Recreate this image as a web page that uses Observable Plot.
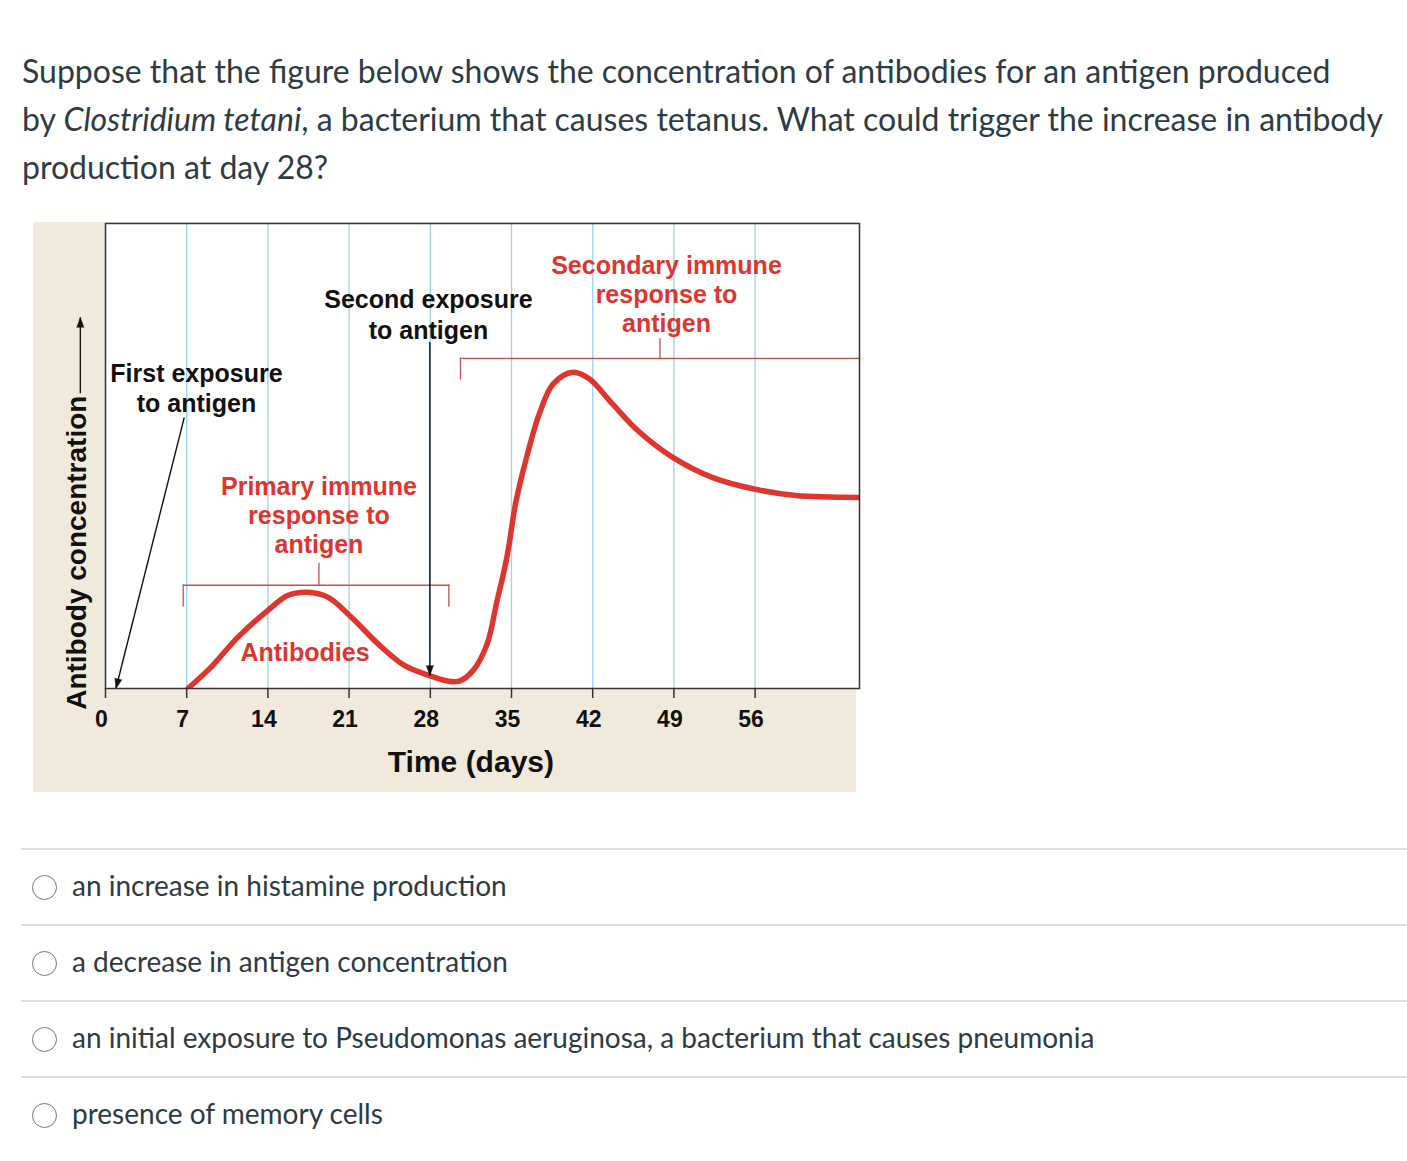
<!DOCTYPE html>
<html>
<head>
<meta charset="utf-8">
<script src="https://cdn.jsdelivr.net/npm/d3@7"></script>
<script src="https://cdn.jsdelivr.net/npm/@observablehq/plot@0.6"></script>
<style>
  body { margin: 0; background: #fff; width: 1407px; height: 1161px; position: relative; overflow: hidden;
         font-family: Lato, "Noto Sans", sans-serif; color: #2d3b45; }
  .question { position: absolute; left: 22px; top: 47px; font-size: 32px; line-height: 48px; white-space: nowrap; }
  .figure { position: absolute; left: 33px; top: 222px; width: 823px; height: 570px; background: #f1e9dc; }
  #chart { position: absolute; left: 33px; top: 222px; }
  .answers { position: absolute; left: 21px; top: 848px; width: 1386px; }
  .answer { height: 74px; border-top: 2px solid #dedede; display: flex; align-items: center; font-size: 28px; }
  .answer span.t { position: relative; top: -2px; }
  .radio { box-sizing: border-box; width: 25px; height: 25px; border: 1.6px solid #777; border-radius: 50%;
           margin-left: 11px; margin-right: 15px; flex: none; }
</style>
</head>
<body>
<div class="question">
  Suppose that the figure below shows the concentration of antibodies for an antigen produced<br>
  by <i>Clostridium tetani</i>, a bacterium that causes tetanus. What could trigger the increase in antibody<br>
  production at day 28?
</div>
<div class="figure"></div>
<div id="chart"></div>
<div class="answers">
  <div class="answer"><span class="radio"></span><span class="t">an increase in histamine production</span></div>
  <div class="answer"><span class="radio"></span><span class="t">a decrease in antigen concentration</span></div>
  <div class="answer"><span class="radio"></span><span class="t">an initial exposure to Pseudomonas aeruginosa, a bacterium that causes pneumonia</span></div>
  <div class="answer"><span class="radio"></span><span class="t">presence of memory cells</span></div>
</div>
<script>
// Antibody concentration (relative units, 0–100) over time in days
const days     = [7.1, 9.1, 11.4, 14.0, 15.7, 17.4, 19.2, 21.2, 23.5, 25.8, 27.9, 29.5, 30.5, 31.7, 32.9,
                  33.7, 34.6, 35.4, 36.3, 37.4, 38.6, 40.3, 41.7, 43.7, 46.0, 48.9, 52.3, 55.9, 59.5, 65.0];
const antibody = [0, 4.6, 11.0, 16.8, 20.0, 20.7, 19.6, 15.3, 9.6, 4.9, 2.8, 1.6, 1.6, 3.9, 9.6,
                  18.2, 28.2, 40.4, 49.7, 59.1, 65.5, 68.0, 66.6, 61.2, 55.2, 49.7, 45.4, 42.9, 41.5, 41.1];
const xTicks = [0, 7, 14, 21, 28, 35, 42, 49, 56];

// Annotation text, anchored at the baseline of the last line (day, level)
const blackLabels = [
  {text: "First exposure\nto antigen", day: 7.84, level: 59.4},
  {text: "Second exposure\nto antigen", day: 27.84, level: 75.2}
];
const redLabels = [
  {text: "Primary immune\nresponse to\nantigen", day: 18.4, level: 29.1},
  {text: "Secondary immune\nresponse to\nantigen", day: 48.36, level: 76.6},
  {text: "Antibodies", day: 17.2, level: 6.0}
];
// Brackets spanning each immune response
const brackets = [
  {from: 6.7, to: 29.6, level: 22.2, foot: 17.8, stemAt: 18.4, stemTop: 26.9, rightFoot: true},
  {from: 30.6, to: 65, level: 71.0, foot: 66.6, stemAt: 47.8, stemTop: 75.2, rightFoot: false}
];
// Pointer arrows: first exposure, second exposure, and the y-axis direction arrow
const arrows = [
  {x1: 6.79, y1: 58.3, x2: 0.9, y2: 0},
  {x1: 27.96, y1: 74.5, x2: 27.96, y2: 2.8},
  {x1: -2.17, y1: 63.5, x2: -2.17, y2: 79.8}
];

const W = 828, H = 570;
const margin = {top: 1, right: 2, bottom: 104, left: 72};
const xMax = 65, yMax = 100;
const kx = (W - margin.left - margin.right) / xMax;
const ky = (H - margin.top - margin.bottom) / yMax;
const heading = (a) => Math.atan2((a.x2 - a.x1) * kx, (a.y2 - a.y1) * ky) * 180 / Math.PI;

const series = days.map((d, i) => ({day: d, level: antibody[i]}));
const bracketSegs = brackets.flatMap((b) => [
  {x1: b.from, y1: b.foot, x2: b.from, y2: b.level},
  {x1: b.from, y1: b.level, x2: b.to, y2: b.level},
  ...(b.rightFoot ? [{x1: b.to, y1: b.level, x2: b.to, y2: b.foot}] : []),
  {x1: b.stemAt, y1: b.level, x2: b.stemAt, y2: b.stemTop}
]);

const red = "#de362e";
const chart = Plot.plot({
  width: W, height: H,
  marginTop: margin.top, marginRight: margin.right, marginBottom: margin.bottom, marginLeft: margin.left,
  style: {fontFamily: "'Liberation Sans', Arial, sans-serif", fontSize: "25px", background: "transparent", overflow: "visible", color: "#111"},
  x: {domain: [0, xMax], label: null},
  y: {domain: [0, yMax], axis: null},
  marks: [
    Plot.frame({fill: "white", stroke: null}),
    Plot.gridX(xTicks.slice(1), {stroke: "#9fd5f1", strokeOpacity: 1, strokeWidth: 1.4}),
    Plot.axisX(xTicks, {tickSize: 10, fill: "none", stroke: "#333", strokeWidth: 1.5, label: null}),
    Plot.axisX(xTicks, {tickSize: 0, tickPadding: 22, stroke: "none", fill: "#111", fontSize: 23, fontWeight: "bold", dx: -4, label: null}),
    Plot.link(bracketSegs, {x1: "x1", y1: "y1", x2: "x2", y2: "y2", stroke: "#c4524c", strokeWidth: 1.3, strokeLinecap: "square"}),
    Plot.line(series, {x: "day", y: "level", curve: "catmull-rom", stroke: red, strokeWidth: 5.5, clip: true}),
    Plot.link(arrows, {x1: "x1", y1: "y1", x2: "x2", y2: "y2", stroke: "#111", strokeWidth: 1.4}),
    Plot.vector(arrows, {x: "x2", y: "y2", rotate: heading, length: 10, r: 3.6, anchor: "end", shape: "spike",
                         fill: "#111", stroke: "#111", strokeWidth: 0.5}),
    Plot.text(blackLabels, {x: "day", y: "level", text: "text", lineAnchor: "bottom", lineHeight: 1.22,
                            fontSize: 25, fontWeight: "bold", fill: "#111"}),
    Plot.text(redLabels, {x: "day", y: "level", text: "text", lineAnchor: "bottom", lineHeight: 1.17,
                          fontSize: 25, fontWeight: "bold", fill: red}),
    Plot.text(["Antibody concentration"], {x: -1.7, y: 29.2, text: (d) => d, rotate: -90, lineAnchor: "bottom",
                                           fontSize: 28, fontWeight: "bold", fill: "#111"}),
    Plot.text(["Time (days)"], {x: 31.5, y: -18.06, text: (d) => d, lineAnchor: "bottom",
                                fontSize: 30, fontWeight: "bold", fill: "#111"}),
    Plot.frame({stroke: "#333", strokeWidth: 1.5})
  ]
});
document.getElementById("chart").append(chart);
</script>
</body>
</html>
